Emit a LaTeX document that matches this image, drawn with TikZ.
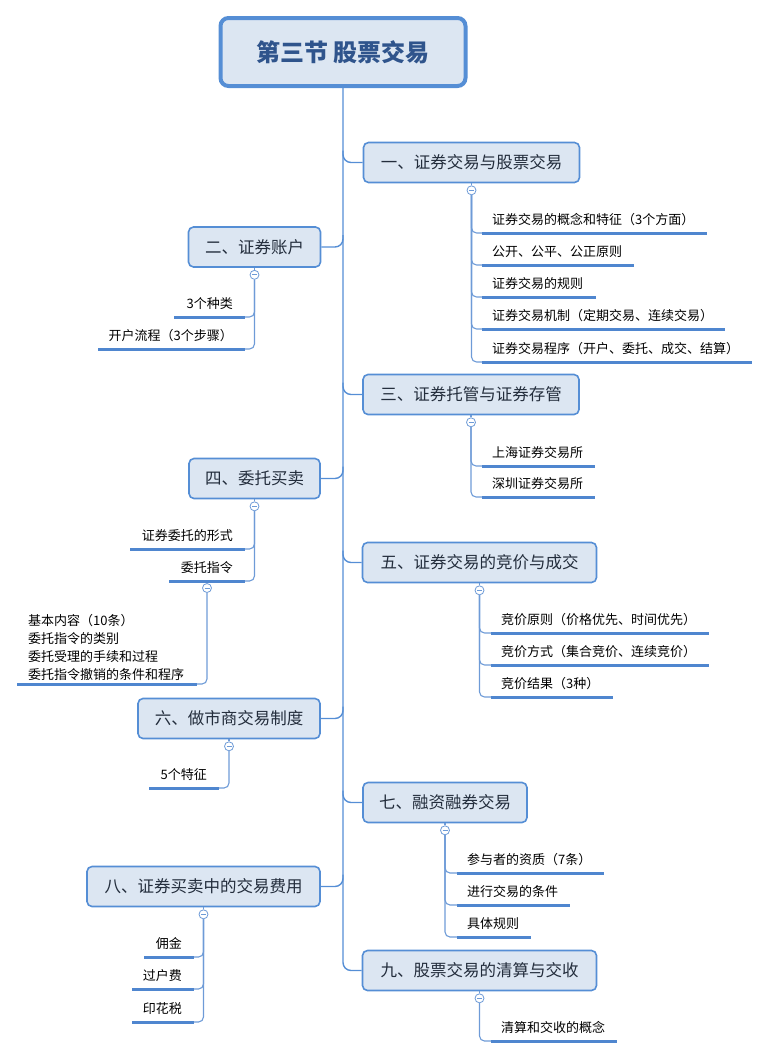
\documentclass[tikz,border=0pt]{standalone}
\usepackage{fontspec}
\setmainfont{Noto Sans CJK SC}
\usetikzlibrary{calc}
\definecolor{mblue}{RGB}{85,142,213}
\definecolor{lblue}{RGB}{110,155,215}
\definecolor{ulblue}{RGB}{79,134,207}
\definecolor{bfill}{RGB}{220,230,242}
\definecolor{btext}{RGB}{35,45,60}
\definecolor{ttext}{RGB}{47,84,140}
\tikzset{
 titlebox/.style={draw=mblue, line width=4, fill=bfill, rounded corners=8, minimum width=245, minimum height=68, text=ttext, font=\fontsize{24}{28}\selectfont\bfseries},
 branch/.style={draw=mblue, line width=1.6, fill=bfill, rounded corners=5, minimum height=40, text=btext, font=\fontsize{16.5}{20}\selectfont, inner sep=0},
 conn/.style={draw=lblue, line width=1.1},
 trunk/.style={draw=mblue, line width=1.4},
 uline/.style={draw=ulblue, line width=3},
 leaftext/.style={font=\fontsize{13}{18}\selectfont, inner sep=0, text=black},
 collapse/.style={circle, draw=lblue, line width=0.8, fill=white, minimum size=9, inner sep=0,
   path picture={\draw[lblue, line width=0.8] ([xshift=-2.5pt]path picture bounding box.center) -- ([xshift=2.5pt]path picture bounding box.center);}},
}
% #1 name, #2 circle, #3 x1, #4 x2, #5 y, #6 text
\newcommand\mleafR[6]{%
 \coordinate (#1s) at (#3,#5);
 \coordinate (#1e) at (#4,#5);
 \draw[conn, rounded corners=5] (#2.south) |- (#1s);
 \draw[uline] (#1s) -- (#1e);
 \node[leaftext, anchor=base west] (#1) at (#3+10,#5-9) {#6};
}
\newcommand\mleafL[6]{%
 \coordinate (#1s) at (#3,#5);
 \coordinate (#1e) at (#4,#5);
 \draw[conn, rounded corners=5] (#2.south) |- (#1e);
 \draw[uline] (#1s) -- (#1e);
 \node[leaftext, anchor=base east] (#1) at (#4-12,#5-9) {#6};
}
\newcommand\mcoll[2]{%
 \node[collapse] (#1) at ($(#2.south)+(0,7)$) {};
 \draw[conn] (#2.south) -- (#1.north);
}
\begin{document}
\begin{tikzpicture}[x=1pt,y=-1pt]
\useasboundingbox (0,0) rectangle (769,1058);

% boxes
\node[titlebox] (title) at (343,52) {第三节 股票交易};
\node[branch, minimum width=216] (b1) at (471.5,162.5) {一、证券交易与股票交易};
\node[branch, minimum width=132] (b2) at (254.5,247) {二、证券账户};
\node[branch, minimum width=216] (b3) at (471,394.5) {三、证券托管与证券存管};
\node[branch, minimum width=131] (b4) at (254.5,478.5) {四、委托买卖};
\node[branch, minimum width=234] (b5) at (479.5,562.5) {五、证券交易的竞价与成交};
\node[branch, minimum width=182] (b6) at (229,718.5) {六、做市商交易制度};
\node[branch, minimum width=164] (b7) at (445,802.5) {七、融资融券交易};
\node[branch, minimum width=233] (b8) at (203.5,886.5) {八、证券买卖中的交易费用};
\node[branch, minimum width=234] (b9) at (479.5,970.5) {九、股票交易的清算与交收};

% trunk and branch connectors
\draw[trunk, rounded corners=8] (title.south) |- (b9.west);
\foreach \b in {b1,b3,b5,b7}{
  \draw[trunk, rounded corners=8] ($(\b.west -| title.south)+(0,-12)$) |- (\b.west);
}
\foreach \b in {b2,b4,b6,b8}{
  \draw[trunk, rounded corners=8] ($(\b.east -| title.south)+(0,-12)$) |- (\b.east);
}

% branch 1
\mcoll{c1}{b1}
\mleafR{l11}{c1}{482}{707}{233}{证券交易的概念和特征（3个方面）}
\mleafR{l12}{c1}{482}{634}{265}{公开、公平、公正原则}
\mleafR{l13}{c1}{482}{596}{297}{证券交易的规则}
\mleafR{l14}{c1}{482}{725}{329}{证券交易机制（定期交易、连续交易）}
\mleafR{l15}{c1}{482}{752}{362}{证券交易程序（开户、委托、成交、结算）}

% branch 2
\mcoll{c2}{b2}
\mleafL{l21}{c2}{174}{245}{317}{3个种类}
\mleafL{l22}{c2}{98}{245}{349}{开户流程（3个步骤）}

% branch 3
\mcoll{c3}{b3}
\mleafR{l31}{c3}{482}{595}{466}{上海证券交易所}
\mleafR{l32}{c3}{482}{595}{497}{深圳证券交易所}

% branch 4
\mcoll{c4}{b4}
\mleafL{l41}{c4}{130}{245}{549}{证券委托的形式}
\mleafL{l42}{c4}{169}{245}{581}{委托指令}
\node[collapse] (c42) at (207,588) {};
\coordinate (l43s) at (17,684);
\coordinate (l43e) at (197,684);
\draw[conn, rounded corners=5] (c42.south) |- (l43e);
\draw[uline] (l43s) -- (l43e);
\node[leaftext, anchor=south west, align=left] (l43) at (28,681)
  {基本内容（10条）\\委托指令的类别\\委托受理的手续和过程\\委托指令撤销的条件和程序};

% branch 5
\mcoll{c5}{b5}
\mleafR{l51}{c5}{491}{709}{633}{竞价原则（价格优先、时间优先）}
\mleafR{l52}{c5}{491}{709}{665}{竞价方式（集合竞价、连续竞价）}
\mleafR{l53}{c5}{491}{613}{697}{竞价结果（3种）}

% branch 6
\mcoll{c6}{b6}
\mleafL{l61}{c6}{149}{219}{788}{5个特征}

% branch 7
\mcoll{c7}{b7}
\mleafR{l71}{c7}{457}{604}{873}{参与者的资质（7条）}
\mleafR{l72}{c7}{457}{570}{905}{进行交易的条件}
\mleafR{l73}{c7}{457}{531}{937}{具体规则}

% branch 8
\mcoll{c8}{b8}
\mleafL{l81}{c8}{144}{194}{957}{佣金}
\mleafL{l82}{c8}{132}{194}{989}{过户费}
\mleafL{l83}{c8}{132}{194}{1022}{印花税}

% branch 9
\mcoll{c9}{b9}
\mleafR{l91}{c9}{491}{617}{1041}{清算和交收的概念}
\end{tikzpicture}
\end{document}
